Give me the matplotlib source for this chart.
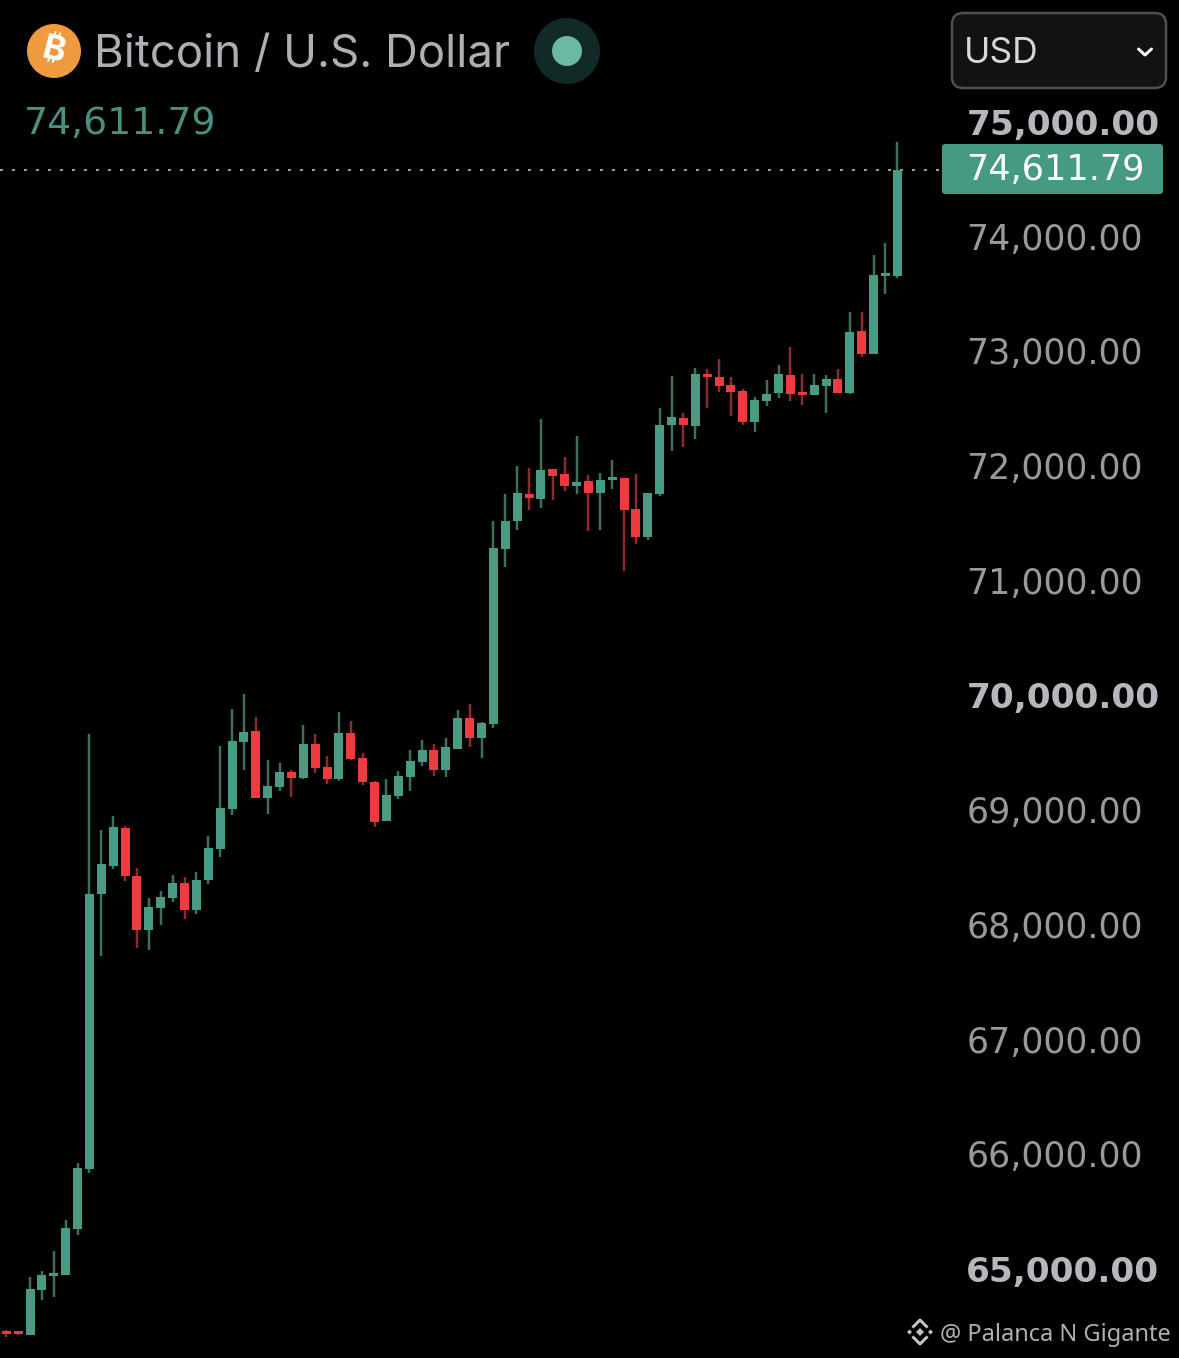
import numpy as np
import matplotlib
matplotlib.use('Agg')
import matplotlib.pyplot as plt
from matplotlib.patches import Circle, FancyBboxPatch, Polygon
from matplotlib.transforms import ScaledTranslation

# values, one entry per candle
opens = [64486, 64486, 64454, 64844, 64966, 64975, 65376, 65899, 68296, 68540,
         68871, 68453, 67982, 68174, 68261, 68392, 68157, 68418, 68688, 69037,
         69621, 69717, 69133, 69229, 69360, 69307, 69604, 69403, 69299, 69700,
         69482, 69273, 68933, 69150, 69316, 69447, 69551, 69377, 69560, 69830,
         69656, 69778, 71304, 71548, 71783, 71740, 72001, 71958, 71853, 71897,
         71792, 71905, 71923, 71653, 71408, 71783, 72385, 72446, 72376, 72829,
         72803, 72734, 72681, 72411, 72594, 72664, 72821, 72673, 72646, 72725,
         72786, 72664, 73204, 73004, 73684, 73684]
highs = [64495, 64490, 64957, 65009, 65184, 65454, 65951, 69691, 68854, 68976,
         68889, 68523, 68261, 68322, 68462, 68444, 68488, 68802, 69586, 69909,
         70040, 69839, 69464, 69438, 69377, 69769, 69691, 69499, 69883, 69804,
         69525, 69281, 69299, 69368, 69551, 69639, 69604, 69656, 69900, 69953,
         69796, 71548, 71783, 72027, 72010, 72437, 72001, 72106, 72289, 71949,
         71966, 72080, 71923, 71958, 71792, 72533, 72812, 72489, 72882, 72873,
         72960, 72803, 72699, 72629, 72777, 72908, 73065, 72829, 72829, 72821,
         72873, 73370, 73370, 73867, 73972, 74852]
lows = [64438, 64447, 64451, 64757, 64783, 64975, 65323, 65864, 67756, 68514,
        68409, 67825, 67808, 68026, 68226, 68078, 68122, 68383, 68619, 68985,
        69377, 69133, 68994, 69194, 69142, 69299, 69351, 69255, 69281, 69464,
        69246, 68880, 68933, 69124, 69194, 69412, 69325, 69316, 69560, 69578,
        69482, 69743, 71147, 71469, 71644, 71661, 71731, 71809, 71783, 71461,
        71469, 71827, 71112, 71347, 71382, 71766, 72158, 72193, 72263, 72533,
        72673, 72463, 72385, 72324, 72550, 72620, 72594, 72559, 72646, 72489,
        72664, 72655, 72978, 73004, 73527, 73666]
closes = [64460, 64460, 64852, 64975, 64992, 65384, 65910, 68296, 68558, 68880,
          68453, 67982, 68183, 68270, 68392, 68157, 68418, 68697, 69046, 69630,
          69708, 69133, 69238, 69360, 69307, 69604, 69395, 69299, 69700, 69473,
          69273, 68924, 69159, 69325, 69456, 69551, 69377, 69578, 69830, 69656,
          69787, 71313, 71548, 71792, 71748, 71993, 71940, 71853, 71888, 71792,
          71905, 71932, 71644, 71408, 71792, 72385, 72455, 72385, 72829, 72803,
          72725, 72673, 72411, 72603, 72655, 72829, 72655, 72646, 72734, 72786,
          72664, 73196, 73004, 73693, 73710, 74611.79]
last_price = 74611.79
price_ticks = [65000, 66000, 67000, 68000, 69000, 70000, 71000, 72000, 73000, 74000, 75000]
bold_ticks = [65000, 70000, 75000]

up_body = '#4a9b85'
up_wick = '#3f6e5a'
down_body = '#ee3b40'
down_wick = '#8c2b2f'
px = 1 / 100 * 72  # points per pixel

W, H = 1179, 1358
fig = plt.figure(figsize=(W / 100, H / 100), dpi=100, facecolor='black')
ax = fig.add_axes([0, 0, 942 / W, 1], facecolor='black')

x = np.arange(len(opens))
o = np.array(opens)
c = np.array(closes)
up = c >= o
wick_colors = [up_wick if u else down_wick for u in up]
body_colors = [up_body if u else down_body for u in up]
ax.vlines(x, lows, highs, colors=wick_colors, linewidth=2.5 * px, zorder=2)
ax.bar(x, np.abs(c - o), bottom=np.minimum(o, c), width=9 / 11.88, color=body_colors, linewidth=0, zorder=3)
ax.axhline(last_price, color='#85a399', linewidth=2 * px, linestyle=(0, (1.5, 4.5)), zorder=1)

ax.set_xlim(-6.3 / 11.88, (942 - 6.3) / 11.88)
ax.set_ylim(76089.75 - 8.718 * H, 76089.75)
ax.set_xticks([])
ax.yaxis.tick_right()
ax.set_yticks(price_ticks)
ax.set_yticklabels(['{:,.2f}'.format(t) for t in price_ticks], fontfamily='DejaVu Sans', fontsize=25)
ax.tick_params(axis='y', length=0, pad=17.5)
# labels sit a little above their price level in the reference
shift = ScaledTranslation(0, 3.5 / 100, fig.dpi_scale_trans)
for t, label in zip(price_ticks, ax.get_yticklabels()):
    label.set_transform(label.get_transform() + shift)
    if t in bold_ticks:
        label.set_fontweight('bold')
        label.set_fontsize(24.7)
        label.set_color('#b6b6bd')
    else:
        label.set_color('#98989d')
for s in ax.spines.values():
    s.set_visible(False)

# header, badges and price tag live on an overlay in pixel coords
ui = fig.add_axes([0, 0, 1, 1], facecolor='none')
ui.set_xlim(0, W)
ui.set_ylim(H, 0)
ui.axis('off')

ui.add_patch(Circle((54, 51), 27, color='#f09a3e', linewidth=0))
ui.text(54, 51, '\u20bf', color='white', fontsize=25, fontweight='bold', rotation=-14,
        ha='center', va='center', family=['Inter', 'Roboto', 'Noto Sans', 'Open Sans', 'Lato', 'Liberation Sans', 'DejaVu Sans'])
ui.text(94, 67, 'Bitcoin / U.S. Dollar', color='#aeaeb4', fontsize=32.8, family='Inter', va='baseline')
ui.add_patch(Circle((567, 51), 33, color='#122a27', linewidth=0))
ui.add_patch(Circle((567, 51), 15, color='#6bb8a4', linewidth=0))
ui.text(24, 134, '74,611.79', color='#4a9080', fontsize=27.2, family='DejaVu Sans', va='baseline')

ui.add_patch(FancyBboxPatch((952, 13), 214, 75, boxstyle='round,pad=0,rounding_size=11',
                            facecolor='#121212', edgecolor='#505050', linewidth=2.5 * px))
ui.text(964, 63, 'USD', color='#d8d8d8', fontsize=25.5, family='Inter', va='baseline')
ui.plot([1138.5, 1145, 1151.5], [49, 55, 49], color='white', linewidth=3 * px, solid_capstyle='round')

ui.add_patch(FancyBboxPatch((942, 144), 221, 50, boxstyle='round,pad=0,rounding_size=3',
                            facecolor='#469a83', edgecolor='none'))
ui.text(966, 180, '74,611.79', color='white', fontsize=25.2, family='DejaVu Sans', va='baseline')

# binance mark next to the watermark
cx, cy = 920, 1332
for dx, dy, r in [(0, 0, 4), (-10.5, 0, 2.5), (10.5, 0, 2.5)]:
    ui.add_patch(Polygon([(cx + dx - r, cy + dy), (cx + dx, cy + dy - r), (cx + dx + r, cy + dy), (cx + dx, cy + dy + r)],
                         facecolor='#c4c4c4', edgecolor='none'))
ui.plot([cx - 6.5, cx, cx + 6.5], [cy - 5.5, cy - 12, cy - 5.5], color='#c4c4c4', linewidth=3 * px)
ui.plot([cx - 6.5, cx, cx + 6.5], [cy + 5.5, cy + 12, cy + 5.5], color='#c4c4c4', linewidth=3 * px)
ui.text(940, 1341, '@ Palanca N Gigante', color='#b0b0b0', fontsize=17, family='Noto Sans', va='baseline')

plt.savefig('out.png', dpi=100, facecolor='black')
